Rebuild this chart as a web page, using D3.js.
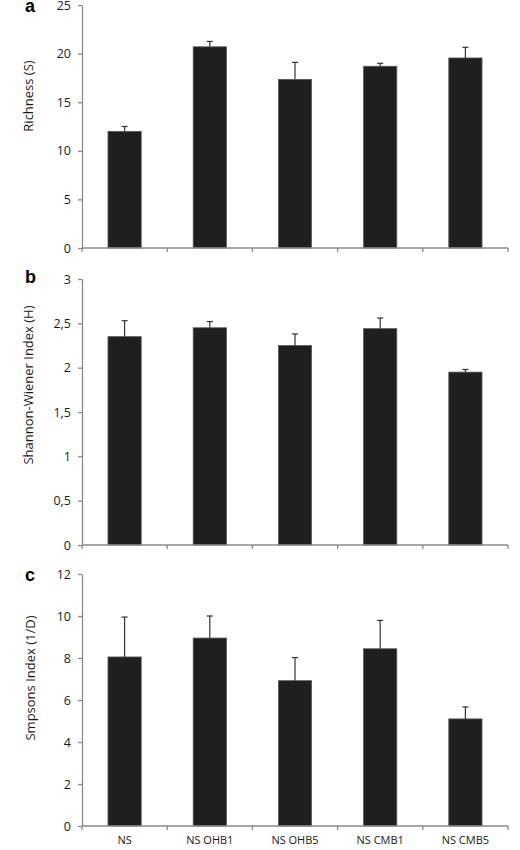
<!DOCTYPE html>
<html>
<head>
<meta charset="utf-8">
<script src="https://cdn.jsdelivr.net/npm/d3@7"></script>
<style>
    body { margin: 0; background: #fff; }
    svg { display: block; }
    .axis path, .axis line { stroke: #8a8a8a; stroke-width: 1.3; }
    .axis text { fill: #1a1a1a; font-family: "Open Sans", sans-serif; font-size: 12.5px; }
    .cat-label { fill: #1a1a1a; font-family: "Open Sans", sans-serif; font-size: 11px; }
    .ytitle { fill: #1a1a1a; font-family: "Open Sans", sans-serif; font-size: 13px; }
    .letter { fill: #000; font-family: "Liberation Sans", Arial, sans-serif; font-size: 18px; font-weight: bold; }
    .bar { fill: #1f1f1f; stroke: #5a5a5a; stroke-width: 0.8; }
    .err { stroke: #333; stroke-width: 1.2; fill: none; }
</style>
</head>
<body>
<div id="chart"></div>
<script>
// Treatments on the x axis
var categories = ['NS', 'NS OHB1', 'NS OHB5', 'NS CMB1', 'NS CMB5'];

// a - Richness (S)
var richness = [12.0, 20.7, 17.35, 18.7, 19.55];
var richnessErr = [0.5, 0.55, 1.75, 0.3, 1.1];
var richnessTicks = [0, 5, 10, 15, 20, 25];

// b - Shannon-Wiener index (H)
var shannon = [2.35, 2.45, 2.25, 2.44, 1.95];
var shannonErr = [0.18, 0.07, 0.13, 0.12, 0.03];
var shannonTicks = [0, 0.5, 1, 1.5, 2, 2.5, 3];

// c - Simpson index (1/D)
var simpson = [8.05, 8.95, 6.92, 8.44, 5.1];
var simpsonErr = [1.9, 1.05, 1.1, 1.35, 0.57];
var simpsonTicks = [0, 2, 4, 6, 8, 10, 12];

var W = 520, H = 850;
var left = 82, right = 508;

var svg = d3.select('#chart').append('svg')
    .attr('width', W)
    .attr('height', H);

var x = d3.scaleBand()
    .domain(categories)
    .range([left, right])
    .paddingInner(0.61)
    .paddingOuter(0.305);

// comma as decimal separator, like the original
var commaFmt = function(d) { return String(d).replace('.', ','); };

var panels = [
    {letter: 'a', title: 'Richness (S)', values: richness, errs: richnessErr, ticks: richnessTicks,
     top: 5, bottom: 248, letterY: 12, titleX: 28, titleY: 96, labels: false},
    {letter: 'b', title: 'Shannon-Wiener  Index (H)', values: shannon, errs: shannonErr, ticks: shannonTicks,
     top: 279, bottom: 545, letterY: 283, titleX: 28, titleY: 385, labels: false},
    {letter: 'c', title: 'Smpsons Index (1/D)', values: simpson, errs: simpsonErr, ticks: simpsonTicks,
     top: 574, bottom: 826, letterY: 581, titleX: 30, titleY: 678, labels: true}
];

panels.forEach(function(p) {
    var y = d3.scaleLinear()
        .domain([0, d3.max(p.ticks)])
        .range([p.bottom, p.top]);

    var g = svg.append('g').attr('class', 'panel panel-' + p.letter);

    // bars
    var data = categories.map(function(c, i) {
        return {cat: c, v: p.values[i], e: p.errs[i]};
    });

    g.selectAll('.bar')
        .data(data).enter()
        .append('rect')
        .attr('class', 'bar')
        .attr('x', function(d) { return x(d.cat); })
        .attr('width', x.bandwidth())
        .attr('y', function(d) { return y(d.v); })
        .attr('height', function(d) { return y(0) - y(d.v); });

    // error bars (upper only)
    var eg = g.selectAll('.errg')
        .data(data).enter()
        .append('g')
        .attr('class', 'errg');

    eg.append('line')
        .attr('class', 'err')
        .attr('x1', function(d) { return x(d.cat) + x.bandwidth() / 2; })
        .attr('x2', function(d) { return x(d.cat) + x.bandwidth() / 2; })
        .attr('y1', function(d) { return y(d.v); })
        .attr('y2', function(d) { return y(d.v + d.e); });

    eg.append('line')
        .attr('class', 'err')
        .attr('x1', function(d) { return x(d.cat) + x.bandwidth() / 2 - 3; })
        .attr('x2', function(d) { return x(d.cat) + x.bandwidth() / 2 + 3; })
        .attr('y1', function(d) { return y(d.v + d.e); })
        .attr('y2', function(d) { return y(d.v + d.e); });

    // y axis
    g.append('g')
        .attr('class', 'axis axis--y')
        .attr('transform', 'translate(' + left + ',0)')
        .call(d3.axisLeft(y)
            .tickValues(p.ticks)
            .tickFormat(commaFmt)
            .tickSize(4)
            .tickSizeOuter(0)
            .tickPadding(7));

    // x axis: baseline plus ticks at category boundaries
    var xa = g.append('g')
        .attr('class', 'axis axis--x')
        .attr('transform', 'translate(0,' + p.bottom + ')');

    xa.append('line')
        .attr('x1', left)
        .attr('x2', right);

    var bounds = d3.range(categories.length + 1).map(function(i) {
        return x.range()[0] + i * x.step();
    });

    xa.selectAll('.bound')
        .data(bounds).enter()
        .append('line')
        .attr('class', 'bound')
        .attr('x1', function(d) { return d; })
        .attr('x2', function(d) { return d; })
        .attr('y1', 0)
        .attr('y2', 4);

    if (p.labels) {
        g.selectAll('.cat-label')
            .data(categories).enter()
            .append('text')
            .attr('class', 'cat-label')
            .attr('text-anchor', 'middle')
            .attr('x', function(d) { return x(d) + x.bandwidth() / 2; })
            .attr('y', p.bottom + 18)
            .text(function(d) { return d; });
    }

    // axis title
    g.append('text')
        .attr('class', 'ytitle')
        .attr('text-anchor', 'middle')
        .attr('transform', 'translate(' + p.titleX + ',' + p.titleY + ') rotate(-90)')
        .attr('dy', '0.35em')
        .text(p.title);

    // panel letter
    g.append('text')
        .attr('class', 'letter')
        .attr('x', 25)
        .attr('y', p.letterY)
        .text(p.letter);
});
</script>
</body>
</html>
